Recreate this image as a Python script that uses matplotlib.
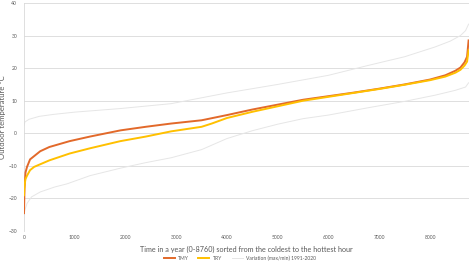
import matplotlib
matplotlib.use("Agg")
import matplotlib.pyplot as plt

# Data
tmy_h = [0, 10, 30, 60, 120, 200, 320, 500, 900, 1300, 1900, 2400, 2900, 3500, 4000, 4500, 5000, 5500, 6000, 6500, 7000, 7500, 8000, 8300, 8500, 8600, 8680, 8730, 8760]
tmy_t = [-24.5, -17, -12, -10.3, -8, -7, -5.5, -4.2, -2.4, -1.0, 0.9, 2.0, 3.0, 4.0, 5.6, 7.3, 8.8, 10.3, 11.4, 12.5, 13.7, 15.0, 16.5, 17.8, 19.2, 20.2, 21.8, 23.5, 28.5]

try_h = [0, 10, 30, 60, 120, 200, 320, 500, 900, 1300, 1900, 2400, 2900, 3500, 3700, 4000, 4500, 5000, 5500, 6000, 6500, 7000, 7500, 8000, 8300, 8500, 8600, 8680, 8730, 8760]
try_t = [-19, -16, -14, -13, -11.3, -10.3, -9.5, -8.3, -6.2, -4.6, -2.4, -1.0, 0.6, 2.0, 3.0, 4.7, 6.6, 8.3, 10.0, 11.2, 12.4, 13.6, 14.9, 16.3, 17.4, 18.6, 19.5, 20.8, 22.0, 25.5]

upper_h = [0, 20, 100, 300, 580, 1000, 1900, 2900, 4000, 5000, 5500, 6000, 6800, 7500, 8100, 8400, 8600, 8700, 8760]
upper_t = [2.5, 3.5, 4.3, 5.2, 5.8, 6.5, 7.6, 9.1, 12.4, 15.0, 16.4, 17.8, 20.9, 23.5, 26.5, 28.3, 30.0, 31.5, 33.5]

lower_h = [0, 20, 60, 150, 320, 600, 850, 1300, 1900, 2400, 2900, 3500, 4000, 4500, 5000, 5500, 6000, 6800, 7500, 8100, 8500, 8700, 8760]
lower_t = [-25, -23.5, -21.5, -19.5, -18, -16.5, -15.5, -13, -10.7, -9, -7.5, -5, -1.6, 0.8, 2.8, 4.5, 5.6, 7.9, 9.8, 11.7, 13.2, 14.2, 15.5]

x_ticks = [0, 1000, 2000, 3000, 4000, 5000, 6000, 7000, 8000]
y_ticks = [-30, -20, -10, 0, 10, 20, 30, 40]

plt.rcParams['font.family'] = ['Lato', 'DejaVu Sans']

fig = plt.figure(figsize=(4.74, 2.69), dpi=100)
ax = fig.add_axes([0.0506, 0.141, 0.938, 0.848])

grid_c = '#d9d9d9'
text_c = '#595959'
var_c = '#e6e6e6'

ax.plot(upper_h, upper_t, color=var_c, lw=0.7, label='Variation (max/min) 1991-2020', zorder=2)
ax.plot(lower_h, lower_t, color=var_c, lw=0.7, zorder=2)
ax.plot(tmy_h, tmy_t, color='#e2692a', lw=1.4, label='TMY', zorder=3)
ax.plot(try_h, try_t, color='#ffc000', lw=1.4, label='TRY', zorder=4)

ax.set_xlim(0, 8760)
ax.set_ylim(-30, 40)
ax.set_xticks(x_ticks)
ax.set_yticks(y_ticks)
ax.tick_params(axis='x', length=0, labelsize=3.6, colors=text_c, pad=3)
ax.tick_params(axis='y', length=0, labelsize=3.6, colors=text_c, pad=5)
ax.grid(axis='y', color=grid_c, lw=0.6)
ax.set_axisbelow(True)
for s in ['top', 'right', 'bottom']:
    ax.spines[s].set_visible(False)
ax.spines['left'].set_color(grid_c)
ax.spines['left'].set_linewidth(0.6)

ax.set_xlabel('Time in a year (0-8760) sorted from the coldest to the hottest hour', fontsize=5.2, color=text_c, labelpad=4)
ax.set_ylabel('Outdoor temperature °C', fontsize=5.6, color=text_c, labelpad=2)

handles, labels = ax.get_legend_handles_labels()
order = [1, 2, 0]
ax.legend([handles[i] for i in order], [labels[i] for i in order],
          loc='center', bbox_to_anchor=(0.485, -0.118), ncol=3, frameon=False,
          fontsize=3.6, labelcolor=text_c, handlelength=2.2, columnspacing=2.0, handletextpad=0.6,
          borderpad=0.1)

fig.savefig('out.png', dpi=100)
